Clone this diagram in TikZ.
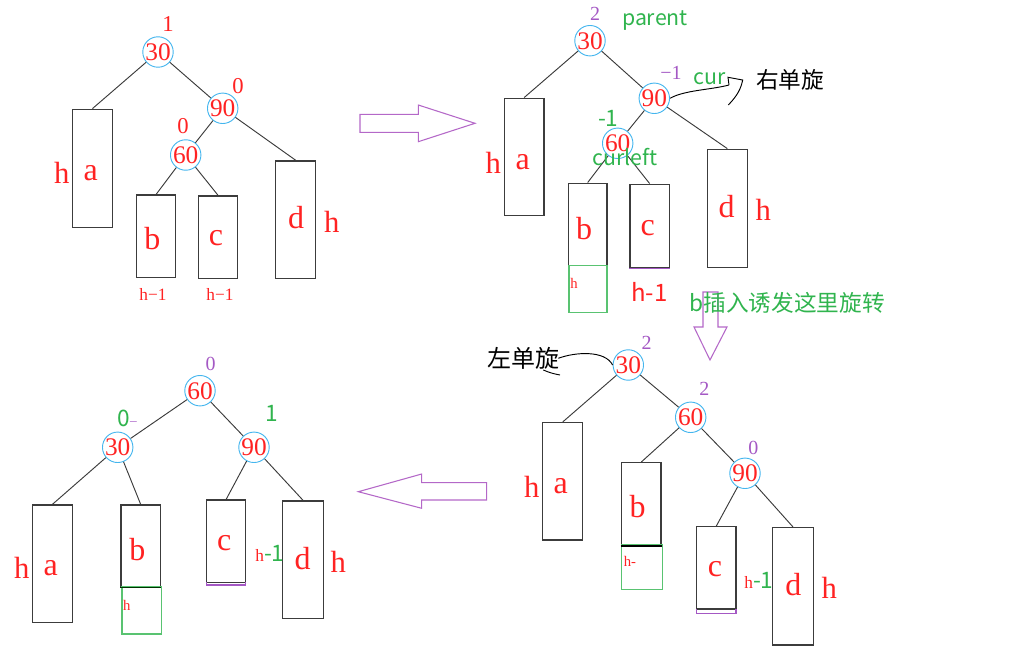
\documentclass[tikz,border=0pt]{standalone}
\usepackage{fontspec}
\setmainfont{Liberation Serif}
\newfontfamily\cjk{Noto Sans CJK SC}
\usetikzlibrary{fit}
\definecolor{cblue}{HTML}{45B6EE}
\definecolor{tred}{HTML}{FF2222}
\definecolor{tgreen}{HTML}{30B44E}
\definecolor{tpurple}{HTML}{A458C4}
\definecolor{arrowp}{HTML}{B468C8}
\definecolor{boxg}{HTML}{3C3C3C}
\definecolor{edgeg}{HTML}{3A3A3A}
\begin{document}
\begin{tikzpicture}[x=0.75pt,y=-0.75pt,
 circ/.style={circle,draw=cblue,line width=0.7pt,minimum size=22.5pt,inner sep=0pt,text=tred,font=\fontsize{19}{19}\selectfont},
 tbox/.style={draw=boxg,line width=1.1pt,inner sep=0pt},
 blab/.style={text=tred,font=\fontsize{24}{24}\selectfont,inner sep=0pt},
 gbox/.style={draw=tgreen!80,line width=0.8pt,inner sep=0pt},
 conn/.style={draw=edgeg,line width=0.7pt},
 hlab/.style={text=tred,font=\fontsize{23}{23}\selectfont,inner sep=0pt},
 bal/.style={text=tred,font=\fontsize{17}{17}\selectfont,inner sep=0pt},
 pbal/.style={text=tpurple,font=\fontsize{15}{15}\selectfont,inner sep=0pt},
 gbal/.style={text=tgreen,font=\cjk\fontsize{17}{17}\selectfont,inner sep=0pt},
 gtxt/.style={text=tgreen,font=\cjk\fontsize{16}{16}\selectfont,inner sep=0pt},
 ktxt/.style={text=black,font=\cjk\fontsize{17}{17}\selectfont,inner sep=0pt},
 smalllab/.style={text=tred,font=\fontsize{13}{13}\selectfont,inner sep=0pt},
 tinylab/.style={text=tred,font=\fontsize{11}{11}\selectfont,inner sep=0pt},
 harrow/.style={draw=arrowp,line width=0.8pt,fill=white},
 hand/.style={draw=black,line width=0.7pt},
 pline/.style={draw=tpurple,line width=1pt},
]
\useasboundingbox (0,0) rectangle (1022,661);

% ---------- hollow arrows ----------
\draw[harrow] (360,114.3) -- (418.3,114.3) -- (418.3,105) -- (475,123.3) -- (418.3,141.7) -- (418.3,132.3) -- (360,132.3) -- cycle;
\draw[harrow] (486.7,482.7) -- (421.7,482.7) -- (421.7,474) -- (358.3,491.7) -- (421.7,508.3) -- (421.7,500) -- (486.7,500) -- cycle;
\draw[harrow] (703,292) -- (718,292) -- (718,327) -- (727,327) -- (710,360) -- (694,327) -- (703,327) -- cycle;

% ---------- diagram 1 (top left) ----------
\node[circ] (p30) at (158,52) {30};
\node[circ] (p90) at (222.7,108.3) {90};
\node[circ] (p60) at (185.7,155) {60};
\node[bal] (p30b) at (168,24) {1};
\node[bal] (p90b) at (238,86) {0};
\node[bal] (p60b) at (183,126) {0};
\node[tbox, fit={(72.3,109.3) (112.7,227.3)}] (pa) {};
\node[tbox, fit={(136.7,195) (175.7,277.3)}] (pb) {};
\node[tbox, fit={(198.3,196) (237.7,278.3)}] (pc) {};
\node[tbox, fit={(275.7,161) (315.7,278.3)}] (pd) {};
\node[blab] (pla) at (90.7,173) {a};
\node[blab] (plb) at (152.3,238.3) {b};
\node[blab] (plc) at (216,238) {c};
\node[blab] (pld) at (296,218) {d};
\node[hlab] (pha) at (61.7,173) {h};
\node[hlab] (phd) at (331.7,221.7) {h};
\node[smalllab] (phb) at (153,294) {h−1};
\node[smalllab] (phc) at (220,294) {h−1};
\draw[conn] (p30) -- (pa.north);
\draw[conn] (p30) -- (p90);
\draw[conn] (p90) -- (p60);
\draw[conn] (p60) -- (pb.north);
\draw[conn] (p60) -- (pc.north);
\draw[conn] (p90) -- (pd.north);

% ---------- diagram 2 (top right) ----------
\node[circ] (q30) at (590,40.7) {30};
\node[circ] (q90) at (654.3,98.3) {90};
\node[circ] (q60) at (617.7,143.3) {60};
\node[tbox, fit={(504.3,98.3) (544,215.7)}] (qa) {};
\node[tbox, fit={(568.3,183.3) (607,265.7)}] (qb) {};
\node[gbox, fit={(569,265.7) (607,312.3)}] (qbg) {};
\node[tbox, fit={(630,184.3) (669.3,267.7)}] (qc) {};
\node[tbox, fit={(707.3,149.3) (747.3,267.3)}] (qd) {};
\node[blab] (qla) at (522.7,161.7) {a};
\node[blab] (qlb) at (584,228.3) {b};
\node[blab] (qlc) at (647.7,228.3) {c};
\node[blab] (qld) at (726.7,206.7) {d};
\draw[pline] (qc.south west) -- (qc.south east);
\draw[conn] (q30) -- (qa.north);
\draw[conn] (q30) -- (q90);
\draw[conn] (q90) -- (q60);
\draw[conn] (q60) -- (qb.north);
\draw[conn] (q60) -- (qc.north);
\draw[conn] (q90) -- (qd.north);
\node[pbal] (q30b) at (595,14) {2};
\node[gtxt] (qpar) at (655,20.7) {parent};
\node[pbal] (q90b) at (671,73.3) {−1};
\node[gtxt] (qcur) at (709.5,79) {cur};
\node[ktxt] (qrot) at (790,80) {右单旋};
\node[gbal] (q60b) at (608.3,118.3) {-1};
\node[gtxt] (qcl) at (625,157) {curleft};
\node[hlab] (qha) at (493.3,163.3) {h};
\node[hlab] (qhd) at (763.3,210) {h};
\node[tinylab] (qhb) at (574,283.3) {h};
\node[text=tred,font=\cjk\fontsize{18}{18}\selectfont,inner sep=0pt] (qhc) at (649.3,291.7) {h-1};
\node[gtxt,font=\cjk\fontsize{17}{17}\selectfont] (qnote) at (787,303) {b插入诱发这里旋转};
\coordinate (qh1) at (729,85);
\coordinate (qh2) at (728,77.3);
\coordinate (qh3) at (742.7,80);
\coordinate (qh4) at (728.3,105);
\draw[hand] (q90.east) .. controls (685,90) and (710,90) .. (qh1);
\draw[hand] (qh1) -- (qh2) -- (qh3) .. controls (741,88) and (738,95) .. (qh4);

% ---------- diagram 3 (bottom right) ----------
\node[circ] (r30) at (628.3,365) {30};
\node[circ] (r60) at (690.7,417.3) {60};
\node[circ] (r90) at (745,473.3) {90};
\node[tbox, fit={(542.7,422.7) (582.7,540)}] (ra) {};
\node[tbox, fit={(621.7,462.7) (661,545)}] (rb) {};
\node[gbox, fit={(621.7,545) (662.3,589.3)}] (rbg) {};
\draw[draw=black,line width=1.3pt] (rb.south west) -- (rb.south east);
\node[tbox, fit={(696.7,526.7) (736,609)}] (rc) {};
\node[tbox, fit={(772.7,527.7) (813.3,645)}] (rd) {};
\node[blab] (rla) at (560.7,486) {a};
\node[blab] (rlb) at (637.7,506.7) {b};
\node[blab] (rlc) at (715,569.3) {c};
\node[blab] (rld) at (793.3,585) {d};
\coordinate (rc1) at (696.7,609);
\coordinate (rc2) at (696.7,613.3);
\coordinate (rc3) at (736,613.3);
\coordinate (rc4) at (736,609);
\draw[pline] (rc1) -- (rc2) -- (rc3) -- (rc4);
\draw[conn] (r30) -- (ra.north);
\draw[conn] (r30) -- (r60);
\draw[conn] (r60) -- (rb.north);
\draw[conn] (r60) -- (r90);
\draw[conn] (r90) -- (rc.north);
\draw[conn] (r90) -- (rd.north);
\node[pbal] (r30b) at (646.7,342.7) {2};
\node[pbal] (r60b) at (704.3,389.3) {2};
\node[pbal] (r90b) at (753.3,447.7) {0};
\node[ktxt,font=\cjk\fontsize{18}{18}\selectfont] (rrot) at (523.3,358.3) {左单旋};
\node[hlab] (rha) at (531.7,487.3) {h};
\node[hlab] (rhd) at (829.3,588.3) {h};
\node[tinylab] (rhb) at (630,561.7) {h-};
\node[inner sep=0pt] (rhc) at (759,580) {\textcolor{tred}{\fontsize{13}{13}\selectfont h}\textcolor{tgreen}{\cjk\fontsize{17}{17}\selectfont -1}};
\coordinate (rh1) at (558.3,358.3);
\coordinate (rh2) at (543.3,370);
\coordinate (rh3) at (560,375);
\draw[hand] (rh1) .. controls (575,352) and (605,350) .. (r30.west);
\draw[hand] (rh2) .. controls (550,373) and (555,374) .. (rh3);

% ---------- diagram 4 (bottom left) ----------
\node[circ] (s60) at (200,390.7) {60};
\node[circ] (s30) at (117.7,447.3) {30};
\node[circ] (s90) at (254,447.3) {90};
\node[tbox, fit={(32.3,505) (72.7,622.3)}] (sa) {};
\node[tbox, fit={(121,505) (160.3,586.7)}] (sb) {};
\node[gbox, fit={(122,586.7) (161.3,634)}] (sbg) {};
\draw[draw=black!80!green,line width=1.2pt] (sb.south west) -- (sb.south east);
\node[tbox, fit={(206.7,500) (245.7,582.3)}] (sc) {};
\node[tbox, fit={(282.7,501) (323.3,618.3)}] (sd) {};
\node[blab] (sla) at (50.7,568.3) {a};
\node[blab] (slb) at (137.3,550) {b};
\node[blab] (slc) at (224.3,542.7) {c};
\node[blab] (sld) at (302.7,558.3) {d};
\coordinate (sc1) at (206.7,582.3);
\coordinate (sc2) at (206.7,585);
\coordinate (sc3) at (245.7,585);
\coordinate (sc4) at (245.7,582.3);
\draw[pline] (sc1) -- (sc2) -- (sc3) -- (sc4);
\draw[conn] (s60) -- (s30);
\draw[conn] (s60) -- (s90);
\draw[conn] (s30) -- (sa.north);
\draw[conn] (s30) -- (sb.north);
\draw[conn] (s90) -- (sc.north);
\draw[conn] (s90) -- (sd.north);
\node[pbal] (s60b) at (210.7,364) {0};
\node[gbal] (s30b) at (124,418.3) {0};
\node[pbal,font=\fontsize{10}{10}\selectfont] (s30d) at (133.5,421) {\_};
\node[gbal] (s90b) at (271.7,413.3) {1};
\node[hlab] (sha) at (21.7,568.3) {h};
\node[hlab] (shd) at (338.3,561.7) {h};
\node[tinylab] (shb) at (126.7,605) {h};
\node[inner sep=0pt] (shc) at (270,553.3) {\textcolor{tred}{\fontsize{13}{13}\selectfont h}\textcolor{tgreen}{\cjk\fontsize{17}{17}\selectfont -1}};
\end{tikzpicture}
\end{document}
